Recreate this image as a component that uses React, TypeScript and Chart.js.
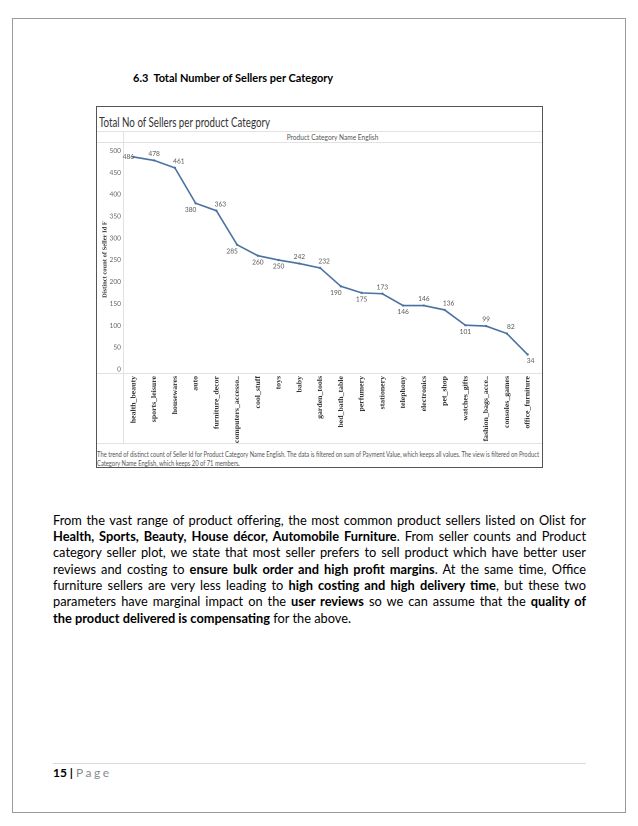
import React, { useEffect, useLayoutEffect, useRef } from "react";
import { Chart, registerables } from "chart.js";

Chart.register(...registerables);

const categories = [
  "health_beauty",
  "sports_leisure",
  "housewares",
  "auto",
  "furniture_decor",
  "computers_accesso..",
  "cool_stuff",
  "toys",
  "baby",
  "garden_tools",
  "bed_bath_table",
  "perfumery",
  "stationery",
  "telephony",
  "electronics",
  "pet_shop",
  "watches_gifts",
  "fashion_bags_acce..",
  "consoles_games",
  "office_furniture",
];

const sellerCounts = [
  486, 478, 461, 380, 363, 285, 260, 250, 242, 232, 190, 175, 173, 146, 146,
  136, 101, 99, 82, 34,
];

const yTicks = [0, 50, 100, 150, 200, 250, 300, 350, 400, 450, 500];

const LINE_COLOR = "#4a72a0";
const SEP = "#e2e2e2";

const TEXT_LEFT = 53;
const TEXT_WIDTH = 533;
const LINE_STEP = 16.35;
const FIRST_LINE_TOP = 511.5;

function FitText({ text, width, style }: { text: string; width: number; style?: React.CSSProperties }) {
  const ref = useRef<HTMLSpanElement>(null);
  useLayoutEffect(() => {
    const el = ref.current;
    if (!el) return;
    el.style.transform = "none";
    const w = el.getBoundingClientRect().width;
    if (w > 0) el.style.transform = `scaleX(${width / w})`;
  }, [text, width]);
  return (
    <span
      ref={ref}
      style={{ display: "inline-block", whiteSpace: "nowrap", transformOrigin: "left center", ...style }}
    >
      {text}
    </span>
  );
}

function Caption({ lines, width, left, top, lineHeight }: { lines: string[]; width: number; left: number; top: number; lineHeight: number }) {
  const refs = useRef<(HTMLSpanElement | null)[]>([]);
  useLayoutEffect(() => {
    const first = refs.current[0];
    if (!first) return;
    refs.current.forEach((r) => r && (r.style.transform = "none"));
    const w = first.getBoundingClientRect().width;
    const k = w > 0 ? width / w : 1;
    refs.current.forEach((r) => r && (r.style.transform = `scaleX(${k})`));
  }, [lines, width]);
  return (
    <>
      {lines.map((l, i) => (
        <div key={i} style={{ position: "absolute", left, top: top + i * lineHeight, lineHeight: lineHeight + "px" }}>
          <span
            ref={(el) => (refs.current[i] = el)}
            style={{ display: "inline-block", whiteSpace: "nowrap", transformOrigin: "left center", fontSize: 6.6, color: "#555", fontFamily: "Lato" }}
          >
            {l}
          </span>
        </div>
      ))}
    </>
  );
}

function JustLine({ top, width, justify, children }: { top: number; width: number; justify: boolean; children: React.ReactNode }) {
  const ref = useRef<HTMLDivElement>(null);
  useLayoutEffect(() => {
    const el = ref.current;
    if (!el) return;
    el.style.wordSpacing = "0px";
    if (!justify) return;
    const w = el.getBoundingClientRect().width;
    const spaces = ((el.textContent || "").match(/ /g) || []).length;
    if (spaces > 0) el.style.wordSpacing = (width - w) / spaces + "px";
  });
  return (
    <div
      ref={ref}
      style={{ position: "absolute", left: TEXT_LEFT, top, whiteSpace: "nowrap", lineHeight: "17px", fontSize: 12.8, color: "#000" }}
    >
      {children}
    </div>
  );
}

const labelPlugin = {
  id: "pointLabels",
  afterDatasetsDraw(chart: any) {
    const { ctx, chartArea } = chart;
    const meta = chart.getDatasetMeta(0);
    const n = sellerCounts.length;
    ctx.save();
    ctx.font = "bold 6.5px 'Liberation Serif'";
    ctx.fillStyle = "#333";
    ctx.textAlign = "center";
    ctx.textBaseline = "middle";
    ctx.translate(8, (chartArea.top + chartArea.bottom) / 2);
    ctx.rotate(-Math.PI / 2);
    ctx.fillText("Distinct count of Seller Id F", 0, 0);
    ctx.restore();

    ctx.save();
    ctx.font = "6.6px Lato";
    ctx.fillStyle = "#555";
    ctx.textAlign = "center";
    ctx.textBaseline = "middle";
    meta.data.forEach((pt: any, i: number) => {
      const v = sellerCounts[i];
      let dx = 0;
      let dy = 0;
      if (i === 0) {
        dx = -5;
        dy = 0;
      } else if (i === n - 1) {
        dx = 3;
        dy = 6.5;
      } else {
        const avg = (sellerCounts[i - 1] + sellerCounts[i + 1]) / 2;
        if (v >= avg) {
          dy = -6.5;
          dx = v - sellerCounts[i + 1] > 30 ? 4 : 0;
        } else {
          dy = 6.5;
          dx = sellerCounts[i - 1] - v > 40 ? -5 : 0;
        }
      }
      ctx.fillText(String(v), pt.x + dx, pt.y + dy);
    });
    ctx.restore();
  },
};

export default function App() {
  const canvasRef = useRef<HTMLCanvasElement>(null);

  useEffect(() => {
    const canvas = canvasRef.current;
    if (!canvas) return;
    const chart = new Chart(canvas, {
      type: "line",
      data: {
        labels: categories,
        datasets: [
          {
            data: sellerCounts,
            borderColor: LINE_COLOR,
            backgroundColor: LINE_COLOR,
            borderWidth: 1.6,
            pointRadius: 1.2,
            pointBorderWidth: 0,
            pointBackgroundColor: LINE_COLOR,
            tension: 0,
            fill: false,
          },
        ],
      },
      options: {
        animation: false,
        responsive: false,
        devicePixelRatio: 2,
        layout: { padding: 0 },
        plugins: { legend: { display: false }, tooltip: { enabled: false } },
        scales: {
          x: {
            type: "category",
            offset: true,
            grid: { display: false, drawTicks: false },
            border: { display: false },
            ticks: {
              autoSkip: false,
              minRotation: 90,
              maxRotation: 90,
              padding: 3,
              color: "#333",
              font: { family: "'Liberation Serif'", weight: "bold", size: 7.8 },
            },
            afterFit: (s: any) => {
              s.height = 70;
              s.paddingLeft = 0;
              s.paddingRight = 0;
            },
          },
          y: {
            min: -8.3,
            max: 511,
            grid: { display: false, drawTicks: false },
            border: { display: false },
            ticks: {
              padding: 2,
              color: "#666",
              font: { family: "Lato", size: 6.6 },
            },
            afterBuildTicks: (s: any) => {
              s.ticks = yTicks.map((v) => ({ value: v }));
            },
            afterFit: (s: any) => {
              s.width = 26;
              s.paddingTop = 0;
              s.paddingBottom = 0;
            },
          },
        },
      },
      plugins: [labelPlugin],
    } as any);
    return () => chart.destroy();
  }, []);

  const abs = (s: React.CSSProperties): React.CSSProperties => ({ position: "absolute", ...s });
  const lineTop = (i: number) => FIRST_LINE_TOP + i * LINE_STEP;

  return (
    <div style={abs({ left: 0, top: 0, width: 638, height: 826, background: "#fff", overflow: "hidden", fontFamily: "Lato" })}>
      {/* page frame */}
      <div style={abs({ left: 12, top: 18, width: 614, height: 795, border: "1.5px solid #9a9a9a", boxSizing: "border-box" })} />

      {/* section heading */}
      <div style={abs({ left: 133, top: 69.5, lineHeight: "15px", fontSize: 11, fontWeight: 700, color: "#000", whiteSpace: "pre" })}>
        {"6.3  Total Number of Sellers per Category"}
      </div>

      {/* chart box */}
      <div style={abs({ left: 96, top: 106, width: 447, height: 362, border: "1px solid #555", boxSizing: "border-box" })} />
      <div style={abs({ left: 99, top: 113, lineHeight: "16px" })}>
        <FitText text="Total No of Sellers per product Category" width={171} style={{ fontSize: 13, color: "#333", fontFamily: "Lato" }} />
      </div>
      <div style={abs({ left: 97, top: 131, width: 445, height: 1, background: SEP })} />
      <div style={abs({ left: 123, top: 132, width: 419, lineHeight: "10px", textAlign: "center", fontSize: 6.6, color: "#555" })}>
        Product Category Name English
      </div>
      <div style={abs({ left: 97, top: 142, width: 445, height: 1, background: SEP })} />
      <div style={abs({ left: 123, top: 131, width: 1, height: 312, background: SEP })} />
      <div style={abs({ left: 97, top: 373, width: 445, height: 1, background: SEP })} />
      <div style={abs({ left: 97, top: 443, width: 445, height: 1, background: SEP })} />

      <canvas ref={canvasRef} width={445} height={301} style={abs({ left: 97, top: 142, width: 445, height: 301 })} />

      <Caption
        left={97}
        top={445.5}
        lineHeight={9.5}
        width={442}
        lines={[
          "The trend of distinct count of Seller Id for Product Category Name English. The data is filtered on sum of Payment Value, which keeps all values. The view is filtered on Product",
          "Category Name English, which keeps 20 of 71 members.",
        ]}
      />

      {/* paragraph */}
      <JustLine top={lineTop(0)} width={TEXT_WIDTH} justify>
        From the vast range of product offering, the most common product sellers listed on Olist for
      </JustLine>
      <JustLine top={lineTop(1)} width={TEXT_WIDTH} justify>
        <b>Health, Sports, Beauty, House décor, Automobile Furniture</b>. From seller counts and Product
      </JustLine>
      <JustLine top={lineTop(2)} width={TEXT_WIDTH} justify>
        category seller plot, we state that most seller prefers to sell product which have better user
      </JustLine>
      <JustLine top={lineTop(3)} width={TEXT_WIDTH} justify>
        reviews and costing to <b>ensure bulk order and high profit margins</b>. At the same time, Office
      </JustLine>
      <JustLine top={lineTop(4)} width={TEXT_WIDTH} justify>
        furniture sellers are very less leading to <b>high costing and high delivery time</b>, but these two
      </JustLine>
      <JustLine top={lineTop(5)} width={TEXT_WIDTH} justify>
        parameters have marginal impact on the <b>user reviews</b> so we can assume that the <b>quality of</b>
      </JustLine>
      <JustLine top={lineTop(6)} width={TEXT_WIDTH} justify={false}>
        <b>the product delivered is compensating</b> for the above.
      </JustLine>

      {/* footer */}
      <div style={abs({ left: TEXT_LEFT, top: 762.5, width: TEXT_WIDTH, height: 1.5, background: "#dadada" })} />
      <div style={abs({ left: TEXT_LEFT, top: 765, lineHeight: "16px", fontSize: 12, whiteSpace: "pre" })}>
        <b style={{ color: "#000" }}>15 | </b>
        <span style={{ color: "#8a8a8a", letterSpacing: 2.6 }}>Page</span>
      </div>
    </div>
  );
}
